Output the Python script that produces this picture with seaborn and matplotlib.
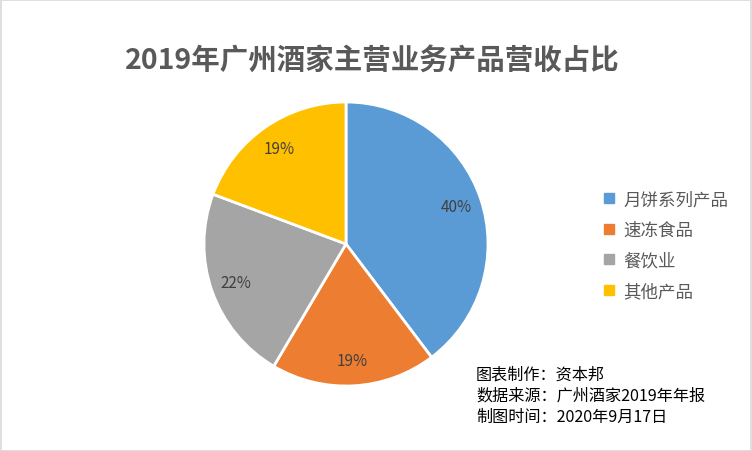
import matplotlib
matplotlib.use("Agg")
import matplotlib.pyplot as plt
import seaborn as sns
from matplotlib.lines import Line2D
from matplotlib.patches import Rectangle

categories = ["月饼系列产品", "速冻食品", "餐饮业", "其他产品"]
values = [39.7, 18.8, 22.2, 19.3]
colors = ["#5B9BD5", "#ED7D31", "#A5A5A5", "#FFC000"]
title = "2019年广州酒家主营业务产品营收占比"
notes = ["图表制作：资本邦", "数据来源：广州酒家2019年年报", "制图时间：2020年9月17日"]

sns.set_theme(style="white")
plt.rcParams['font.family'] = ['Noto Sans CJK SC', 'DejaVu Sans']

W, H = 752, 452
fig = plt.figure(figsize=(W / 100, H / 100), dpi=100)
fig.patch.set_facecolor("white")

cx, cy, r = 346, 245, 142
ax = fig.add_axes([(cx - r) / W, (H - cy - r) / H, 2 * r / W, 2 * r / H])
wedges, texts, autotexts = ax.pie(
    values, colors=colors, startangle=90, counterclock=False,
    autopct=lambda p: f"{p:.0f}%", pctdistance=0.82,
    wedgeprops=dict(edgecolor="white", linewidth=2),
    textprops=dict(color="#404040", fontsize=11))
ax.set_xlim(-1, 1)
ax.set_ylim(-1, 1)
ax.set_aspect("equal")
ax.axis("off")

fig.text(372 / W, 1 - 61 / H, title, ha="center", va="center",
         fontsize=20.5, fontweight="bold", color="#595959")

handles = [Line2D([0], [0], marker="s", linestyle="none", markersize=7,
                  markerfacecolor=c, markeredgecolor=c) for c in colors]
fig.legend(handles, categories, loc="center left",
           bbox_to_anchor=(593 / W, 1 - 246 / H), frameon=False,
           fontsize=12.6, labelcolor="#595959", handlelength=0.8,
           handletextpad=0.45, labelspacing=0.72, borderpad=0)

for i, s in enumerate(notes):
    fig.text(476 / W, 1 - (375 + 21 * i) / H, s, ha="left", va="center",
             fontsize=11.6, color="black")

fig.add_artist(Rectangle((0.5 / W, 0.5 / H), 1 - 1.5 / W, 1 - 1.5 / H,
                         transform=fig.transFigure, fill=False,
                         edgecolor="#D9D9D9", linewidth=1.2))

fig.savefig("out.png", dpi=100)
